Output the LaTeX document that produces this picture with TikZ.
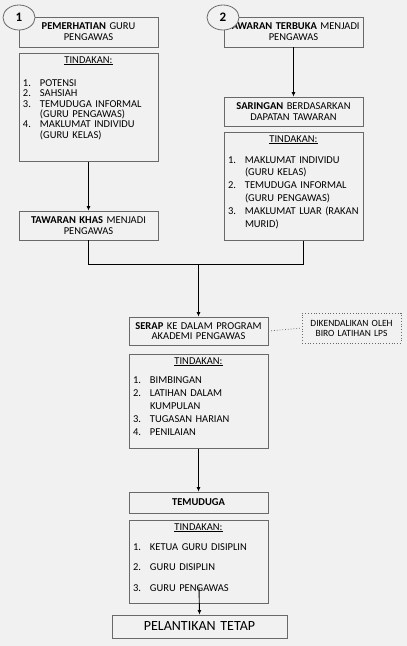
\documentclass[tikz,border=0pt]{standalone}
\usepackage{fontspec}
\setmainfont{Carlito}
\usepackage{tikz}
\usetikzlibrary{arrows.meta,positioning,calc,shapes.geometric}
\definecolor{pagegray}{RGB}{241,241,241}
\definecolor{edgegray}{RGB}{105,105,105}
\newcommand{\acthead}{\makebox[131pt][c]{\underline{TINDAKAN:}}}
\newcommand{\numitem}[2]{\makebox[17pt][l]{#1}\mbox{#2}}
\newcommand{\moreitem}[1]{\hspace*{17pt}\mbox{#1}}
\tikzset{
  stagebox/.style={rectangle, draw=edgegray, fill=pagegray, line width=0.8pt,
                   text width=137pt, inner xsep=1pt, inner ysep=3pt, align=center,
                   minimum height=30pt, font=\fontsize{10.5}{10.8}\selectfont},
  actbox/.style={rectangle, draw=edgegray, fill=pagegray, line width=0.8pt,
                 text width=131pt, inner xsep=4pt, inner ysep=3pt, align=left,
                 anchor=north, font=\fontsize{10.5}{#1}\selectfont},
  notebox/.style={rectangle, draw=edgegray, dotted, fill=pagegray, line width=0.8pt,
                  text width=95pt, inner xsep=2pt, align=center,
                  minimum height=30pt, font=\fontsize{9.5}{10}\selectfont},
  numoval/.style={ellipse, draw=edgegray, fill=pagegray, line width=0.8pt,
                  minimum width=32pt, minimum height=25pt, inner sep=0pt,
                  font=\fontsize{13}{13}\selectfont\bfseries},
  arrow/.style={-{Latex[length=4.5pt,width=4pt]}, line width=0.9pt},
}

\begin{document}
\begin{tikzpicture}[x=1pt, y=-1pt]
    \fill[pagegray] (0,0) rectangle (407,646);
    \useasboundingbox (0,0) rectangle (407,646);

    % Left branch: observation by the teacher
    \node[stagebox] (watch) at (88.5,32) {\textbf{PEMERHATIAN} GURU\\PENGAWAS};
    \node[actbox=10.4pt, text depth=95.2pt] (watchact) at (88.5,53) {\acthead\\[12.8pt]
      \numitem{1.}{POTENSI}\\
      \numitem{2.}{SAHSIAH}\\
      \numitem{3.}{TEMUDUGA INFORMAL}\\
      \moreitem{(GURU PENGAWAS)}\\
      \numitem{4.}{MAKLUMAT INDIVIDU}\\
      \moreitem{(GURU KELAS)}};
    \node[stagebox, minimum height=29pt] (special) at (88.5,225.5) {\textbf{TAWARAN KHAS} MENJADI\\PENGAWAS};

    % Right branch: open offer
    \node[stagebox] (open) at (293.5,32) {\textbf{TAWARAN TERBUKA} MENJADI\\PENGAWAS};
    \node[stagebox, minimum height=29pt] (screen) at (293.5,111.5) {\textbf{SARINGAN} BERDASARKAN\\DAPATAN TAWARAN};
    \node[actbox=12.8pt, text depth=95.2pt] (openact) at (293.5,132) {\acthead\\[8.2pt]
      \numitem{1.}{MAKLUMAT INDIVIDU}\\
      \moreitem{(GURU KELAS)}\\
      \numitem{2.}{TEMUDUGA INFORMAL}\\
      \moreitem{(GURU PENGAWAS)}\\
      \numitem{3.}{MAKLUMAT LUAR (RAKAN}\\
      \moreitem{MURID)}};

    % Step numbers (drawn over the box corners)
    \node[numoval] (num1) at (19,17.5) {1};
    \node[numoval] (num2) at (223,17.5) {2};

    % Middle column: academy, interview, appointment
    \coordinate (merge) at (198.5,264);
    \node[stagebox, minimum height=28pt] (absorb) at (198.5,331) {\textbf{SERAP} KE DALAM PROGRAM\\AKADEMI PENGAWAS};
    \node[notebox] (bureau) at (351.5,328) {DIKENDALIKAN OLEH\\BIRO LATIHAN LPS};
    \node[actbox=13pt, text depth=81.2pt] (absorbact) at (198.5,354) {\acthead\\[6pt]
      \numitem{1.}{BIMBINGAN}\\
      \numitem{2.}{LATIHAN DALAM}\\
      \moreitem{KUMPULAN}\\
      \numitem{3.}{TUGASAN HARIAN}\\
      \numitem{4.}{PENILAIAN}};
    \node[stagebox, minimum height=21pt] (interview) at (198.5,502.5) {\textbf{TEMUDUGA}};
    \node[actbox=20.5pt, text depth=70.2pt] (interviewact) at (198.5,520) {\acthead\\[-0.5pt]
      \numitem{1.}{KETUA GURU DISIPLIN}\\
      \numitem{2.}{GURU DISIPLIN}\\
      \numitem{3.}{GURU PENGAWAS}};
    \coordinate (actend) at (199,587);
    \node[stagebox, text width=173pt, minimum height=23pt, font=\fontsize{14}{14}\selectfont] (appoint) at (199.5,626.5) {PELANTIKAN TETAP};

    % Arrows
    \draw[arrow] (watchact.south) -- (watchact.south |- special.north);
    \draw[arrow] (open.south) -- (screen.north);
    \draw (special.south) |- (merge);
    \draw ([xshift=9.5pt]openact.south) |- (merge);
    \draw[arrow] (merge) -- (absorb.north);
    \draw[dotted, edgegray, line width=0.8pt] (absorb.east) -- (bureau.west);
    \draw[arrow] (absorbact.south) -- (interview.north);
    \draw[arrow] (actend) -- (appoint.north);

\end{tikzpicture}
\end{document}
